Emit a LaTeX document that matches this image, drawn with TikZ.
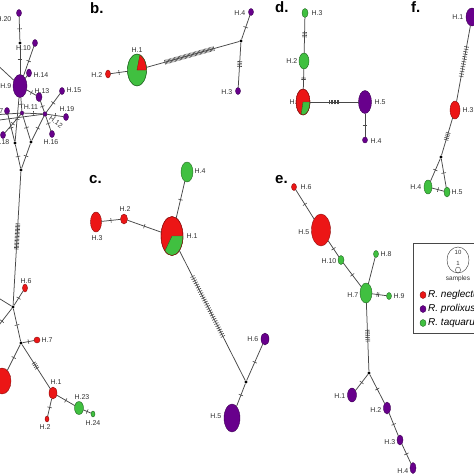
\documentclass[tikz,border=0pt]{standalone}
\usepackage{fontspec}
\setmainfont{Liberation Sans}
\usetikzlibrary{shapes.geometric,decorations.markings}
\definecolor{cR}{RGB}{236,22,22}
\definecolor{cP}{RGB}{104,0,140}
\definecolor{cG}{RGB}{64,192,64}
\definecolor{ln}{RGB}{72,72,72}
\definecolor{tx}{RGB}{50,50,50}
\tikzset{
 hb/.style={ellipse, inner sep=0pt, outer sep=0pt, line width=0.4pt},
 nR/.style 2 args={hb, fill=cR, draw=cR!60!black, minimum width=#1pt, minimum height=#2pt},
 nP/.style 2 args={hb, fill=cP, draw=cP!60!black, minimum width=#1pt, minimum height=#2pt},
 nG/.style 2 args={hb, fill=cG, draw=cG!55!black, minimum width=#1pt, minimum height=#2pt},
 vx/.style={circle, fill=black, inner sep=0pt, minimum size=3.2pt},
 lb/.style={font=\fontsize{7}{8}\selectfont, text=tx, inner sep=0.5pt},
 pl/.style={font=\fontsize{15}{16}\selectfont\bfseries, text=black, inner sep=0pt},
 lg/.style={font=\fontsize{10}{11}\selectfont\itshape, text=black, inner sep=0pt},
 cn/.style={draw=ln, line width=0.75pt},
 tk/.style={postaction={decorate, decoration={markings, mark=at position #1 with {\draw[ln, line width=0.6pt] (0pt,-2.3pt) -- (0pt,2.3pt);}}}},
 hs/.style n args={3}{postaction={decorate, decoration={markings, mark=between positions #1 and #2 step #3 with {\draw[ln, line width=0.6pt] (0pt,-2.3pt) -- (0pt,2.3pt);}}}},
}
\begin{document}
\begin{tikzpicture}[x=1pt,y=-1pt]
\useasboundingbox (0,0) rectangle (474,474);
\fill[white] (0,0) rectangle (474,474);

%% ---------- panel a (cropped) ----------
\node[nP={5}{7}] (a20) at (19,13) {};
\node[vx] (ad1) at (20,43) {};
\node[nP={5}{7}] (a10) at (35,43) {};
\node[nP={14}{23}] (a9) at (20,86) {};
\node[nP={5}{8}] (a14) at (29,73) {};
\node[nP={6}{9}] (a13) at (39,97) {};
\node[nP={5}{7}] (a15) at (62,91) {};
\node[nP={3.5}{4}] (a11) at (22,113) {};
\node[nP={4}{4.5}] (a12) at (45,114) {};
\node[nP={5}{7}] (a19) at (66,117) {};
\node[nP={5}{7}] (a16) at (52,134) {};
\node[nP={5}{7}] (a17) at (7,111) {};
\node[nP={5}{7}] (a18) at (3,135) {};
\node[vx] (ad2) at (15,143) {};
\node[vx] (ad3) at (31,142) {};
\node[vx] (ad4) at (21,170) {};
\coordinate (aw1) at (-8,60);
\coordinate (aw2) at (-8,115);
\coordinate (aw3) at (-8,121);

\node[vx] (ad5) at (13,307) {};
\node[nR={5}{8}] (a6) at (25,288) {};
\node[vx] (ad6) at (21,343) {};
\node[nR={6}{6}] (a7) at (37,340) {};
\node[nR={18}{26}] (abig) at (2,381) {};
\node[nR={8}{12}] (a1) at (53,393) {};
\node[nR={4}{6}] (a2) at (47,419) {};
\node[nG={9}{13}] (a23) at (79,408) {};
\node[nG={4}{6}] (a24) at (93,414) {};
\coordinate (aw4) at (-8,294);
\coordinate (aw5) at (-8,334);

\draw[cn,tk=0.5] (a20) -- (ad1);
\draw[cn,tk=0.5] (ad1) -- (a9);
\draw[cn,tk=0.5] (a10) -- (a9);
\draw[cn] (a14) -- (a9);
\draw[cn,tk=0.5] (a9) -- (a13);
\draw[cn,tk=0.5] (a13) -- (a12);
\draw[cn,tk=0.5] (a12) -- (a15);
\draw[cn,tk=0.5] (a12) -- (a19);
\draw[cn,tk=0.5] (a12) -- (a16);
\draw[cn,tk=0.5] (a11) -- (a12);
\draw[cn,tk=0.5] (a9) -- (a11);
\draw[cn] (aw1) -- (a9);
\draw[cn] (aw2) -- (a11);
\draw[cn] (aw3) -- (a12);
\draw[cn,tk=0.5] (a11) -- (a18);
\draw[cn,tk=0.5] (a17) -- (ad2);
\draw[cn,tk=0.5] (a9) -- (ad2);
\draw[cn,tk=0.5] (a11) -- (ad3);
\draw[cn,tk=0.5] (a12) -- (ad3);
\draw[cn,tk=0.5] (ad2) -- (ad4);
\draw[cn,tk=0.5] (ad3) -- (ad4);
\draw[cn,hs={0.39}{0.58}{1.4pt}] (ad4) -- (ad5);
\draw[cn,tk=0.5] (ad5) -- (a6);
\draw[cn] (ad5) -- (aw4);
\draw[cn,tk=0.5] (ad5) -- (aw5);
\draw[cn,tk=0.5] (ad5) -- (ad6);
\draw[cn,tk=0.5] (ad6) -- (a7);
\draw[cn,tk=0.5] (ad6) -- (abig);
\draw[cn,hs={0.42}{0.56}{2pt}] (ad6) -- (a1);
\draw[cn,tk=0.5] (a1) -- (a2);
\draw[cn,tk=0.5] (a1) -- (a23);
\draw[cn,tk=0.5] (a23) -- (a24);

\node[lb,anchor=east] (la20) at (12,19) {H.20};
\node[lb] (la10) at (23.5,48) {H.10};
\node[lb] (la14) at (41,75) {H.14};
\node[lb,anchor=east] (la9) at (12,86) {H.9};
\node[lb] (la13) at (42,91) {H.13};
\node[lb] (la15) at (74,90) {H.15};
\node[lb] (la11) at (31,107) {H.11};
\node[lb] (la19) at (67,109) {H.19};
\node[lb,rotate=-35] (la12) at (56,122) {H.12};
\node[lb] (la16) at (51,142) {H.16};
\node[lb,anchor=east] (la17) at (4,111) {H.17};
\node[lb,anchor=east] (la18) at (10,142) {H.18};
\node[lb] (la6) at (26,281) {H.6};
\node[lb,anchor=west] (la7) at (41,340) {H.7};
\node[lb] (la1) at (56,382) {H.1};
\node[lb] (la2) at (45,427) {H.2};
\node[lb] (la23) at (82,397) {H.23};
\node[lb] (la24) at (93,423) {H.24};

%% ---------- panel b ----------
\node[pl,anchor=base west] (pb) at (90,13) {b.};
\node[nG={19}{32}] (b1) at (137,70) {};
\node[nR={5}{8}] (b2) at (108,74) {};
\node[vx] (bd) at (241,41) {};
\node[nP={5}{7}] (b4) at (251,12) {};
\node[nP={5}{7}] (b3) at (238,91) {};
\fill[cR, draw=cR!60!black, line width=0.3pt] (b1.center) -- ++(0:9.5pt and 16pt) arc[start angle=0, end angle=72, x radius=9.5pt, y radius=16pt] -- cycle;
\draw[cG!55!black, line width=0.4pt] (b1.center) ellipse [x radius=9.5pt, y radius=16pt];
\draw[cn,tk=0.5] (b2) -- (b1);
\draw[cn,hs={0.2}{0.73}{1.3pt}] (b1) -- (bd);
\draw[cn,tk=0.5] (bd) -- (b4);
\draw[cn,hs={0.42}{0.54}{1.6pt}] (bd) -- (b3);
\node[lb] (lb1) at (137,50) {H.1};
\node[lb,anchor=east] (lb2) at (103,75) {H.2};
\node[lb,anchor=east] (lb4) at (246,13) {H.4};
\node[lb,anchor=east] (lb3) at (233,92) {H.3};

%% ---------- panel c ----------
\node[pl,anchor=base west] (pc) at (89,183) {c.};
\node[nR={22}{39}] (c1) at (172,236) {};
\node[nG={12}{20}] (c4) at (187,172) {};
\node[nR={7}{10}] (c2) at (124,219) {};
\node[nR={11}{20}] (c3) at (96,222) {};
\node[vx] (cd) at (246,382) {};
\node[nP={8}{12}] (c6) at (265,339) {};
\node[nP={16}{28}] (c5) at (232,418) {};
\fill[cG, draw=cG!55!black, line width=0.4pt] (c1.center) -- ++(0:11pt and 19.5pt) arc[start angle=0, end angle=-130, x radius=11pt, y radius=19.5pt] -- cycle;
\draw[cR!60!black, line width=0.4pt] (c1.center) ellipse [x radius=11pt, y radius=19.5pt];
\draw[cn,tk=0.5] (c3) -- (c2);
\draw[cn,tk=0.5] (c2) -- (c1);
\draw[cn,tk=0.5] (c1) -- (c4);
\draw[cn,hs={0.2}{0.67}{2.4pt}] (c1) -- (cd);
\draw[cn,tk=0.5] (cd) -- (c6);
\draw[cn,tk=0.5] (cd) -- (c5);
\node[lb,anchor=west] (lc1) at (186,236) {H.1};
\node[lb,anchor=west] (lc4) at (194,171) {H.4};
\node[lb] (lc2) at (125,209) {H.2};
\node[lb] (lc3) at (97,238) {H.3};
\node[lb,anchor=east] (lc6) at (259,339) {H.6};
\node[lb,anchor=east] (lc5) at (222,416) {H.5};

%% ---------- panel d ----------
\node[pl,anchor=base west] (pd) at (275,12) {d.};
\node[lb,anchor=west] (ld1) at (289,102) {H.1};
\node[nG={6}{9}] (d3) at (305,13) {};
\node[nG={10}{16}] (d2) at (304,61) {};
\node[nR={14}{26}] (d1) at (303,102) {};
\node[nP={13}{23}] (d5) at (365,102) {};
\node[nP={5}{6}] (d4) at (365,140) {};
\fill[cG, draw=cG!55!black, line width=0.4pt] (d1.center) -- ++(0:7pt and 13pt) arc[start angle=0, end angle=-105, x radius=7pt, y radius=13pt] -- cycle;
\draw[cR!60!black, line width=0.4pt] (d1.center) ellipse [x radius=7pt, y radius=13pt];
\draw[cn,hs={0.42}{0.58}{1.5pt}] (d3) -- (d2);
\draw[cn,hs={0.45}{0.56}{1.5pt}] (d2) -- (d1);
\draw[cn,hs={0.4}{0.6}{1.5pt}] (d1) -- (d5);
\draw[cn,tk=0.5] (d5) -- (d4);
\node[lb,anchor=west] (ld3) at (311,13) {H.3};
\node[lb,anchor=east] (ld2) at (298,61) {H.2};
\node[lb,anchor=west] (ld5) at (374,102) {H.5};
\node[lb,anchor=west] (ld4) at (370,141) {H.4};

%% ---------- panel f ----------
\node[pl,anchor=base west] (pf) at (411,12) {f.};
\node[nP={12}{18}] (f1) at (472,17) {};
\node[nR={10}{18}] (f3) at (455,110) {};
\node[vx] (fd) at (441,157) {};
\node[nG={8}{14}] (f4) at (428,187) {};
\node[nG={6}{10}] (f5) at (447,192) {};
\draw[cn,hs={0.28}{0.69}{2.5pt}] (f1) -- (f3);
\draw[cn,hs={0.4}{0.6}{1.8pt}] (f3) -- (fd);
\draw[cn,tk=0.5] (fd) -- (f4);
\draw[cn,tk=0.5] (fd) -- (f5);
\draw[cn,tk=0.5] (f4) -- (f5);
\node[lb,anchor=east] (lf1) at (464,17) {H.1};
\node[lb,anchor=west] (lf3) at (462,110) {H.3};
\node[lb,anchor=east] (lf4) at (422,187) {H.4};
\node[lb,anchor=west] (lf5) at (451,192) {H.5};

%% ---------- panel e ----------
\node[pl,anchor=base west] (pe) at (275,183) {e.};
\node[nR={5}{7}] (e6) at (294,187) {};
\node[nR={19}{32}] (e5) at (321,230) {};
\node[nG={6}{9}] (e10) at (341,260) {};
\node[nG={12}{20}] (e7) at (366,293) {};
\node[nG={5}{7}] (e8) at (376,254) {};
\node[nG={5}{7}] (e9) at (389,296) {};
\node[vx] (ed) at (369,373) {};
\node[nP={9}{14}] (e1) at (352,395) {};
\node[nP={7}{12}] (e2) at (387,408) {};
\node[nP={6}{10}] (e3) at (400,440) {};
\node[nP={6}{11}] (e4) at (413,468) {};
\draw[cn,tk=0.5] (e6) -- (e5);
\draw[cn,tk=0.5] (e5) -- (e10);
\draw[cn,tk=0.5] (e10) -- (e7);
\draw[cn] (e7) -- (e8);
\draw[cn,hs={0.35}{0.5}{1.6pt}] (e7) -- (e9);
\draw[cn,hs={0.4}{0.57}{1.8pt}] (e7) -- (ed);
\draw[cn,tk=0.5] (ed) -- (e1);
\draw[cn,tk=0.5] (ed) -- (e2);
\draw[cn,tk=0.5] (e2) -- (e3);
\draw[cn,tk=0.5] (e3) -- (e4);
\node[lb,anchor=west] (le6) at (300,187) {H.6};
\node[lb,anchor=east] (le5) at (310,232) {H.5};
\node[lb,anchor=east] (le10) at (337,261) {H.10};
\node[lb,anchor=east] (le7) at (359,295) {H.7};
\node[lb,anchor=west] (le8) at (380,254) {H.8};
\node[lb,anchor=west] (le9) at (393,296) {H.9};
\node[lb,anchor=east] (le1) at (346,396) {H.1};
\node[lb,anchor=east] (le2) at (382,410) {H.2};
\node[lb,anchor=east] (le3) at (396,442) {H.3};
\node[lb,anchor=east] (le4) at (409,471) {H.4};

%% ---------- legend ----------
\draw[ln, line width=0.6pt] (413,243) rectangle (482,333);
\node[hb, draw=black!80, minimum width=22pt, minimum height=26pt] (sbig) at (458,260) {};
\node[hb, draw=black!80, minimum width=5pt, minimum height=6pt] (ssml) at (458,270) {};
\node[lb, font=\fontsize{6}{7}\selectfont] (s10) at (458,252) {10};
\node[lb, font=\fontsize{6}{7}\selectfont] (s1) at (458,263.5) {1};
\node[lb, font=\fontsize{6.5}{7}\selectfont] (ssam) at (458,279) {samples};
\node[nR={6}{7}] (kR) at (423,295) {};
\node[nP={6}{7}] (kP) at (423,309) {};
\node[nG={6}{7}] (kG) at (423,323) {};
\node[lg,anchor=west] (tR) at (428,295) {R. neglectus};
\node[lg,anchor=west] (tP) at (428,309) {R. prolixus};
\node[lg,anchor=west] (tG) at (428,323) {R. taquarussuensis};
\end{tikzpicture}
\end{document}
